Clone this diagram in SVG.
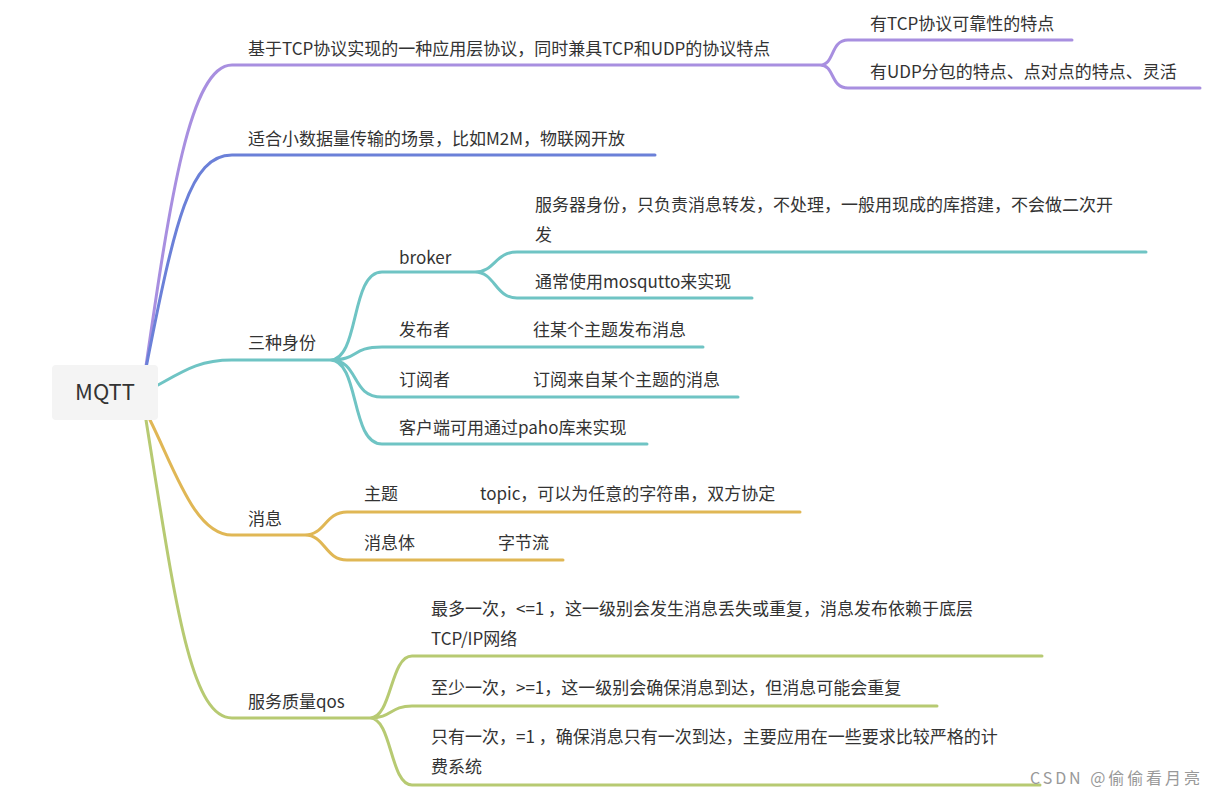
<svg xmlns="http://www.w3.org/2000/svg" width="1216" height="797" viewBox="0 0 1216 797">
<style>
text{font-family:"Noto Sans CJK SC","Noto Sans",sans-serif;font-size:17px;fill:#333}
path{fill:none;stroke-width:3;stroke-linecap:round}
.p{stroke:#a88fe0}.b{stroke:#6b80d8}.t{stroke:#6fc4c4}.g{stroke:#e0b755}.l{stroke:#b7ca72}
</style>
<rect width="1216" height="797" fill="#fff"/>
<g id="connectors">
<path class="p" d="M146,366 C170,200 190,65 232,65 H820 M820,65 C835,65 830,40 848,40 H1072 M820,65 C835,65 830,88 848,88 H1200"/>
<path class="b" d="M146,368 C175,220 190,155 232,155 H655"/>
<path class="t" d="M158,385 C185,370 200,360 232,360 H330 M330,360 C360,360 350,272 382,272 H475 M330,360 C360,360 350,347 382,347 H703 M330,360 C360,360 350,397 382,397 H738 M330,360 C360,360 350,444 382,444 H647 M475,272 C495,272 495,252 517,252 H1146 M475,272 C495,272 495,298 517,298 H752"/>
<path class="g" d="M150,420 C175,470 195,535 232,535 H305 M305,535 C325,535 325,512 347,512 H800 M305,535 C325,535 325,560 347,560 H563"/>
<path class="l" d="M146,420 C175,600 190,718 232,718 H370 M370,718 C392,718 390,656 412,656 H1042 M370,718 C392,718 390,706 412,706 H937 M370,718 C392,718 390,785 412,785 H1040"/>
</g>
<g id="root"><rect x="52" y="365" width="106" height="55" rx="4" fill="#f4f4f4"/><text x="105" y="400" text-anchor="middle" style="font-size:22px">MQTT</text></g>
<g id="n1"><text x="248" y="55">基于TCP协议实现的一种应用层协议，同时兼具TCP和UDP的协议特点</text></g>
<g id="n1a"><text x="870" y="30">有TCP协议可靠性的特点</text></g>
<g id="n1b"><text x="870" y="78">有UDP分包的特点、点对点的特点、灵活</text></g>
<g id="n2"><text x="248" y="145">适合小数据量传输的场景，比如M2M，物联网开放</text></g>
<g id="n3"><text x="248" y="349">三种身份</text></g>
<g id="broker"><text x="399" y="264">broker</text></g>
<g id="b1"><text x="535" y="211">服务器身份，只负责消息转发，不处理，一般用现成的库搭建，不会做二次开</text><text x="535" y="241">发</text></g>
<g id="b2"><text x="535" y="288">通常使用mosqutto来实现</text></g>
<g id="pub"><text x="399" y="336">发布者</text><text x="533" y="336">往某个主题发布消息</text></g>
<g id="sub"><text x="399" y="386">订阅者</text><text x="533" y="386">订阅来自某个主题的消息</text></g>
<g id="cli"><text x="399" y="434">客户端可用通过paho库来实现</text></g>
<g id="n4"><text x="248" y="525">消息</text></g>
<g id="topic"><text x="364" y="500">主题</text><text x="480" y="500">topic，可以为任意的字符串，双方协定</text></g>
<g id="body"><text x="364" y="549">消息体</text><text x="498" y="549">字节流</text></g>
<g id="n5"><text x="248" y="708">服务质量qos</text></g>
<g id="q0"><text x="431" y="615">最多一次，&lt;=1 ，这一级别会发生消息丢失或重复，消息发布依赖于底层</text><text x="431" y="645">TCP/IP网络</text></g>
<g id="q1"><text x="431" y="694">至少一次，&gt;=1，这一级别会确保消息到达，但消息可能会重复</text></g>
<g id="q2"><text x="431" y="743">只有一次，=1 ，确保消息只有一次到达，主要应用在一些要求比较严格的计</text><text x="431" y="773">费系统</text></g>
<text x="1030" y="784" textLength="170" style="fill:#999;font-size:16px">CSDN @偷偷看月亮</text>
</svg>
